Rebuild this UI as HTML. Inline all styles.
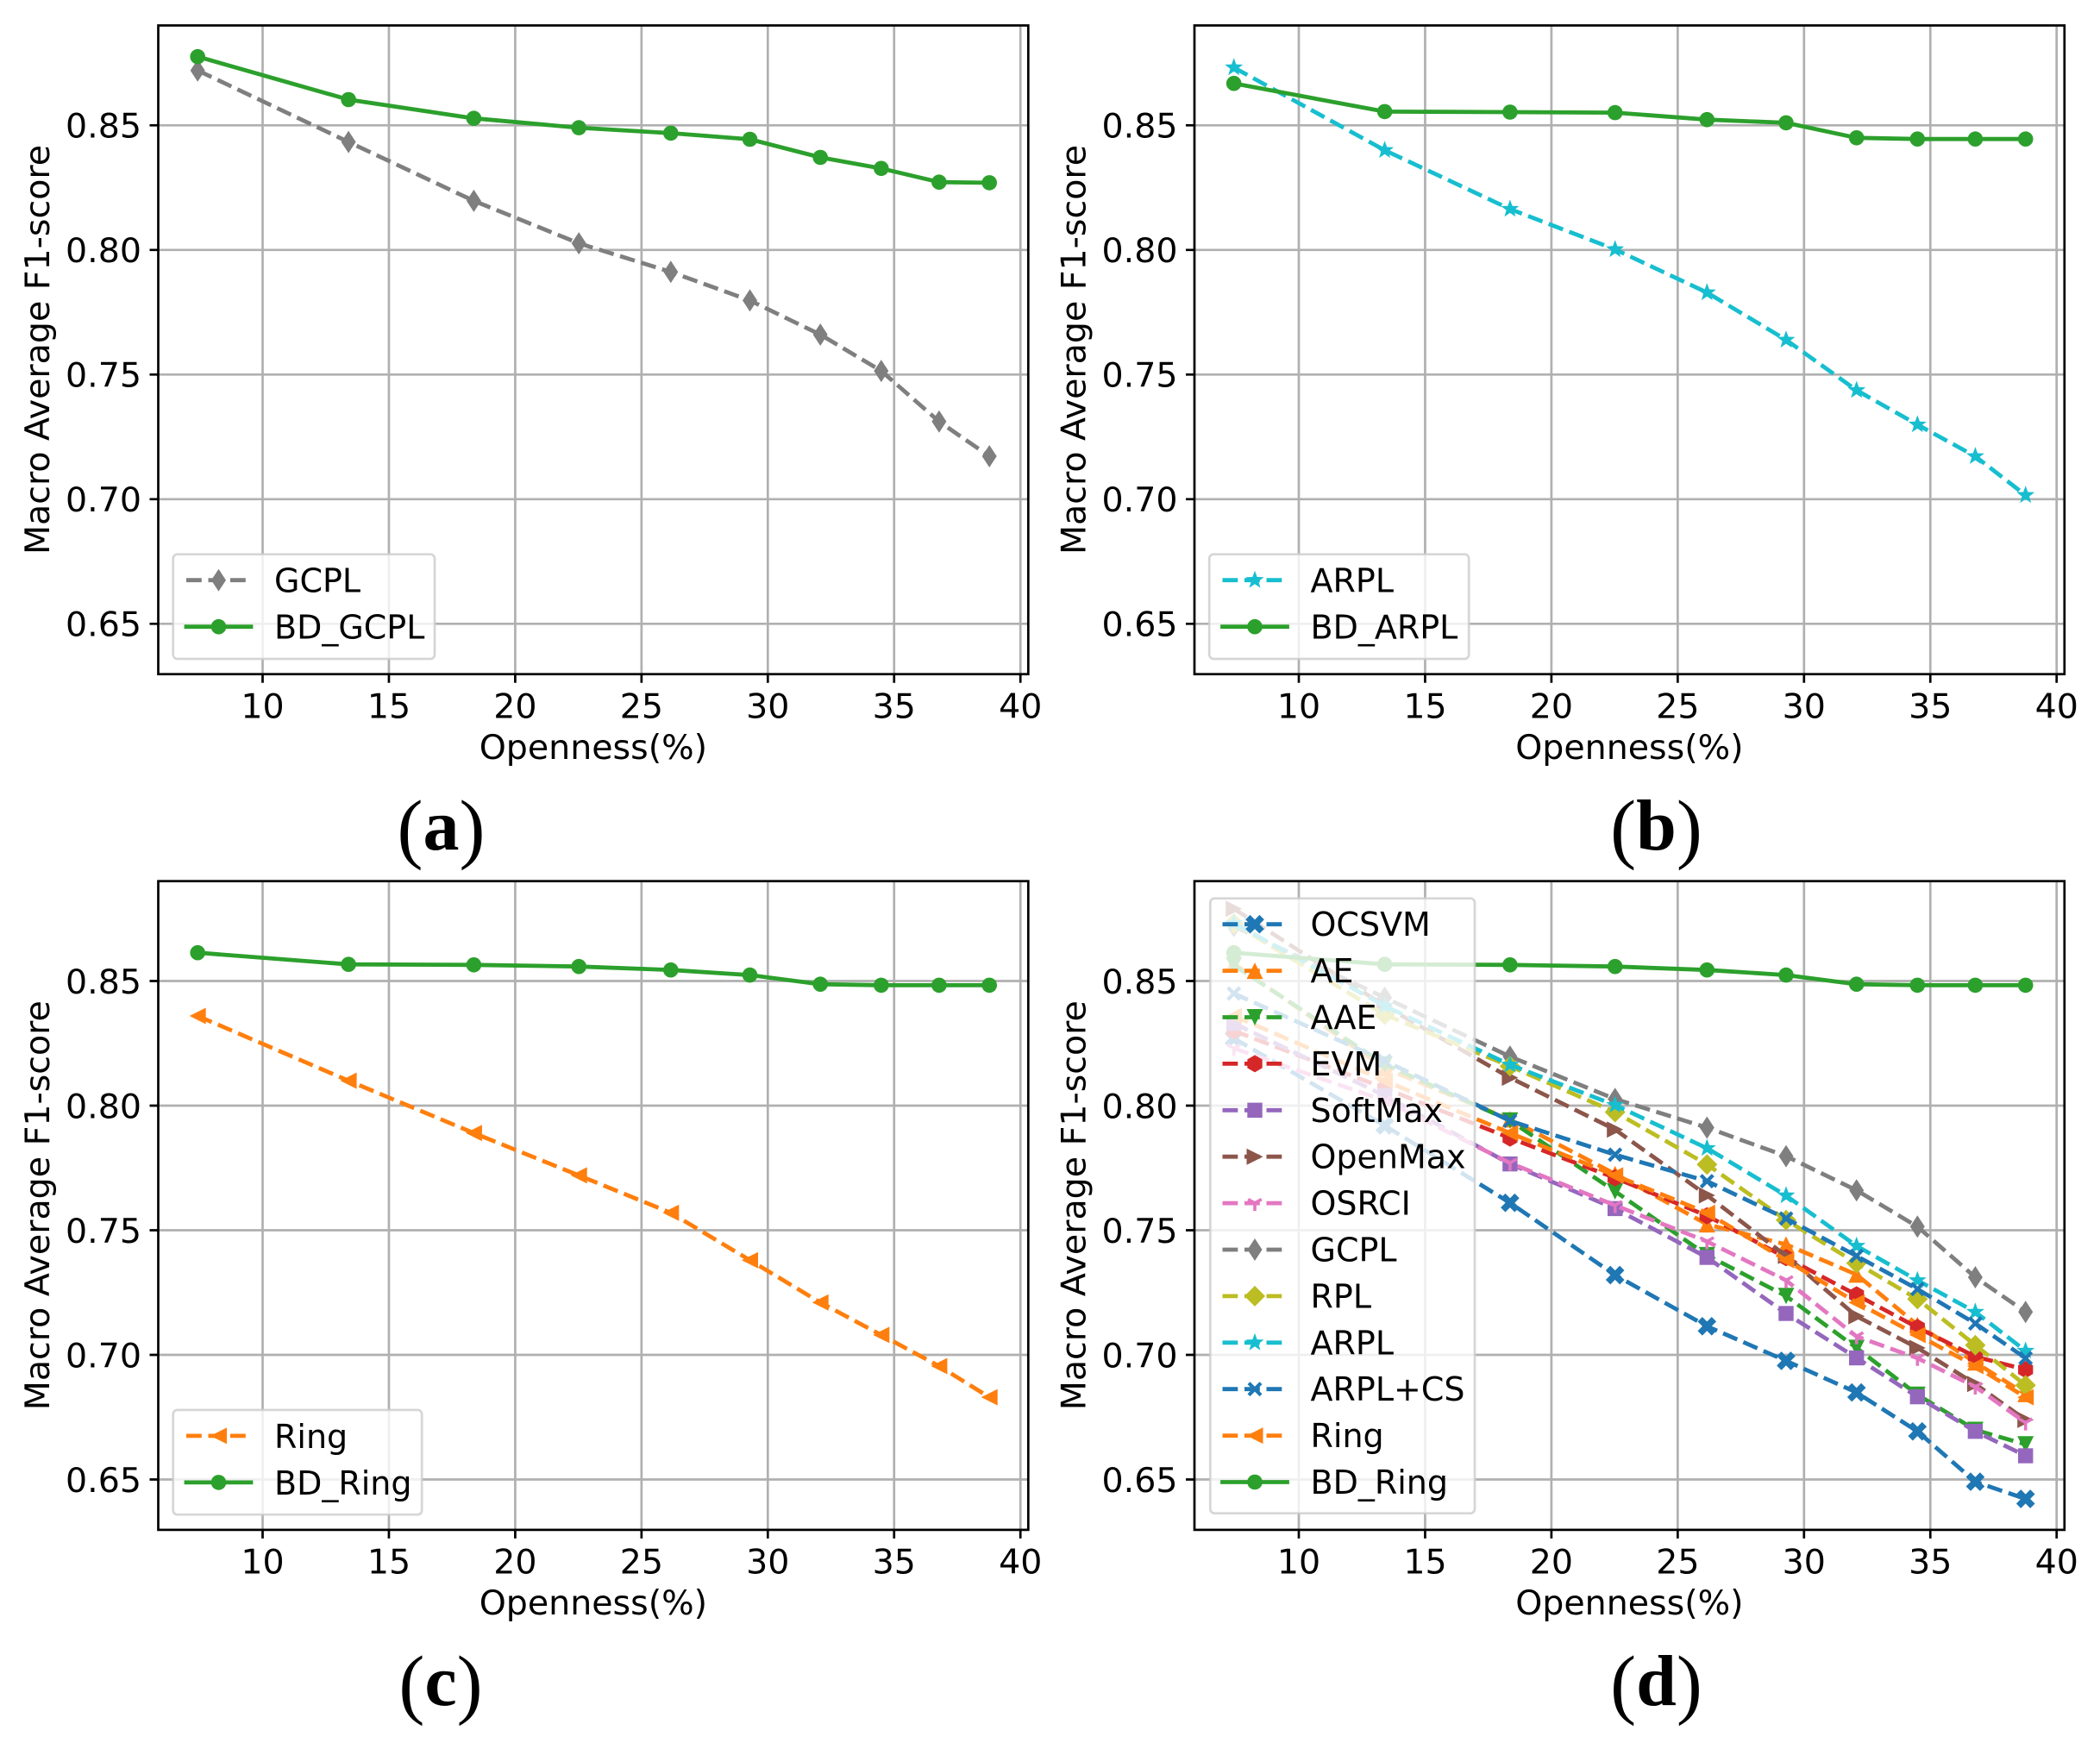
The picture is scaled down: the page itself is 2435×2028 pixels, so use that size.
<!DOCTYPE html>
<html><head><meta charset="utf-8">
<style>
html,body{margin:0;padding:0;background:#fff;}
svg{display:block;}
.tk{font-family:"DejaVu Sans","Liberation Sans",sans-serif;font-size:39.5px;fill:#000;}
.lg{font-family:"DejaVu Sans","Liberation Sans",sans-serif;font-size:38px;fill:#000;}
.fl{font-family:"Liberation Serif","DejaVu Serif",serif;font-size:90px;fill:#000;}
.d{fill:none;stroke-width:4.8;stroke-dasharray:17.8 7.7;stroke-linejoin:round;stroke-linecap:butt;}
.s{fill:none;stroke-width:4.8;stroke-linejoin:round;stroke-linecap:square;}
.lgbox{fill:#fff;fill-opacity:0.8;stroke:#cccccc;stroke-opacity:0.8;stroke-width:2.7;}
</style></head>
<body>
<svg width="2435" height="2028" viewBox="0 0 2435 2028" xmlns="http://www.w3.org/2000/svg">
<defs>
<marker id="mo" markerUnits="userSpaceOnUse" viewBox="-20 -20 40 40" refX="0" refY="0" markerWidth="40" markerHeight="40" overflow="visible"><circle r="8.8" fill="#2ca02c"/></marker>
<marker id="md" markerUnits="userSpaceOnUse" viewBox="-20 -20 40 40" refX="0" refY="0" markerWidth="40" markerHeight="40" overflow="visible"><polygon points="0,-13 8.5,0 0,13 -8.5,0" fill="#7f7f7f"/></marker>
<marker id="mst" markerUnits="userSpaceOnUse" viewBox="-20 -20 40 40" refX="0" refY="0" markerWidth="40" markerHeight="40" overflow="visible"><polygon points="0,-11 2.65,-3.64 10.46,-3.4 4.28,1.39 6.47,8.9 0,4.5 -6.47,8.9 -4.28,1.39 -10.46,-3.4 -2.65,-3.64" fill="#17becf"/></marker>
<marker id="mlt" markerUnits="userSpaceOnUse" viewBox="-20 -20 40 40" refX="0" refY="0" markerWidth="40" markerHeight="40" overflow="visible"><polygon points="-9.5,0 9.5,-9.5 9.5,9.5" fill="#ff7f0e"/></marker>
<marker id="mX" markerUnits="userSpaceOnUse" viewBox="-20 -20 40 40" refX="0" refY="0" markerWidth="40" markerHeight="40" overflow="visible"><polygon transform="rotate(45)" points="-3.8,-11.5 3.8,-11.5 3.8,-3.8 11.5,-3.8 11.5,3.8 3.8,3.8 3.8,11.5 -3.8,11.5 -3.8,3.8 -11.5,3.8 -11.5,-3.8 -3.8,-3.8" fill="#1f77b4"/></marker>
<marker id="mup" markerUnits="userSpaceOnUse" viewBox="-20 -20 40 40" refX="0" refY="0" markerWidth="40" markerHeight="40" overflow="visible"><polygon points="0,-9.5 9.5,9.5 -9.5,9.5" fill="#ff7f0e"/></marker>
<marker id="mdn" markerUnits="userSpaceOnUse" viewBox="-20 -20 40 40" refX="0" refY="0" markerWidth="40" markerHeight="40" overflow="visible"><polygon points="0,9.5 9.5,-9.5 -9.5,-9.5" fill="#2ca02c"/></marker>
<marker id="mh" markerUnits="userSpaceOnUse" viewBox="-20 -20 40 40" refX="0" refY="0" markerWidth="40" markerHeight="40" overflow="visible"><polygon points="0,-10 8.66,-5 8.66,5 0,10 -8.66,5 -8.66,-5" fill="#d62728"/></marker>
<marker id="msq" markerUnits="userSpaceOnUse" viewBox="-20 -20 40 40" refX="0" refY="0" markerWidth="40" markerHeight="40" overflow="visible"><rect x="-8.7" y="-8.7" width="17.4" height="17.4" fill="#9467bd"/></marker>
<marker id="mgt" markerUnits="userSpaceOnUse" viewBox="-20 -20 40 40" refX="0" refY="0" markerWidth="40" markerHeight="40" overflow="visible"><polygon points="9.5,0 -9.5,-9.5 -9.5,9.5" fill="#8c564b"/></marker>
<marker id="m1" markerUnits="userSpaceOnUse" viewBox="-20 -20 40 40" refX="0" refY="0" markerWidth="40" markerHeight="40" overflow="visible"><path d="M0,0 V9 M0,0 L-7.8,-4.5 M0,0 L7.8,-4.5" stroke="#e377c2" stroke-width="3.6" fill="none"/></marker>
<marker id="mD" markerUnits="userSpaceOnUse" viewBox="-20 -20 40 40" refX="0" refY="0" markerWidth="40" markerHeight="40" overflow="visible"><polygon points="0,-12 12,0 0,12 -12,0" fill="#bcbd22"/></marker>
<marker id="mx" markerUnits="userSpaceOnUse" viewBox="-20 -20 40 40" refX="0" refY="0" markerWidth="40" markerHeight="40" overflow="visible"><path d="M-7,-7 L7,7 M-7,7 L7,-7" stroke="#1f77b4" stroke-width="4.2" fill="none"/></marker>

<g id="grid">
<path d="M304.5 29.5V781.7M450.95 29.5V781.7M597.4 29.5V781.7M743.85 29.5V781.7M890.3 29.5V781.7M1036.75 29.5V781.7M1183.2 29.5V781.7M183.5 723.3H1192.3M183.5 578.8H1192.3M183.5 434.3H1192.3M183.5 289.8H1192.3M183.5 145.3H1192.3" stroke="#b0b0b0" stroke-width="2.7" fill="none"/>
</g>
<g id="frame">
<rect x="183.5" y="29.5" width="1008.8" height="752.2" fill="none" stroke="#000" stroke-width="2.7"/>
<path d="M304.5 781.7V791.7M450.95 781.7V791.7M597.4 781.7V791.7M743.85 781.7V791.7M890.3 781.7V791.7M1036.75 781.7V791.7M1183.2 781.7V791.7M173.5 723.3H183.5M173.5 578.8H183.5M173.5 434.3H183.5M173.5 289.8H183.5M173.5 145.3H183.5" stroke="#000" stroke-width="2.7" fill="none"/>
</g>
</defs>
<rect width="2435" height="2028" fill="#fff"/>

<!-- Panel (a) -->
<g>
<use href="#grid"/>
<polyline class="d" stroke="#7f7f7f" style="marker:url(#md)" points="229.2,81.7 404.1,164.6 549.4,232.9 671.2,282.1 777.8,315.3 869.5,348.4 951.2,388 1021.8,430.1 1088.9,488.8 1147.2,529"/>
<polyline class="s" stroke="#2ca02c" style="marker:url(#mo)" points="229.2,65.7 404.1,115.5 549.4,137.2 671.2,148.1 777.8,154.4 869.5,161.5 951.2,182.5 1021.8,195.3 1088.9,211.2 1147.2,211.9"/>
<rect class="lgbox" x="200.7" y="642.7" width="303.3" height="121.3" rx="5"/>
<polyline class="d" stroke="#7f7f7f" style="marker-mid:url(#md)" points="216,672.7 253.5,672.7 291,672.7"/>
<polyline class="s" stroke="#2ca02c" style="marker-mid:url(#mo)" points="216,726.7 253.5,726.7 291,726.7"/>
<text class="lg" x="318" y="686.7">GCPL</text>
<text class="lg" x="318" y="740.7">BD_GCPL</text>
<use href="#frame"/>
<g class="tk" text-anchor="middle">
<text x="304.5" y="832.5">10</text><text x="450.95" y="832.5">15</text><text x="597.4" y="832.5">20</text><text x="743.85" y="832.5">25</text><text x="890.3" y="832.5">30</text><text x="1036.75" y="832.5">35</text><text x="1183.2" y="832.5">40</text>
<text x="687.9" y="880">Openness(%)</text>
<text transform="translate(57,405.5) rotate(-90)">Macro Average F1-score</text>
</g>
<g class="tk" text-anchor="end">
<text x="164" y="737.6">0.65</text><text x="164" y="593.1">0.70</text><text x="164" y="448.6">0.75</text><text x="164" y="304.1">0.80</text><text x="164" y="159.6">0.85</text>
</g>
<text class="fl" x="511.5" y="990" text-anchor="middle">(<tspan font-weight="bold" font-size="84" dy="-5">a</tspan><tspan dy="5">)</tspan></text>
</g>

<!-- Panel (b) -->
<g transform="translate(1201.5,0)">
<use href="#grid"/>
<polyline class="d" stroke="#17becf" style="marker:url(#mst)" points="229.2,78.3 404.1,174.2 549.4,242.4 671.2,289.2 777.8,339.2 869.5,394.1 951.2,452.5 1021.8,492.4 1088.9,529.1 1147.2,574.2"/>
<polyline class="s" stroke="#2ca02c" style="marker:url(#mo)" points="229.2,96.7 404.1,129.4 549.4,130 671.2,130.6 777.8,138.7 869.5,142.4 951.2,159.8 1021.8,161.2 1088.9,161.2 1147.2,161.2"/>
<rect class="lgbox" x="200.7" y="642.7" width="301" height="121.3" rx="5"/>
<polyline class="d" stroke="#17becf" style="marker-mid:url(#mst)" points="216,672.7 253.5,672.7 291,672.7"/>
<polyline class="s" stroke="#2ca02c" style="marker-mid:url(#mo)" points="216,726.7 253.5,726.7 291,726.7"/>
<text class="lg" x="318" y="686.7">ARPL</text>
<text class="lg" x="318" y="740.7">BD_ARPL</text>
<use href="#frame"/>
<g class="tk" text-anchor="middle">
<text x="304.5" y="832.5">10</text><text x="450.95" y="832.5">15</text><text x="597.4" y="832.5">20</text><text x="743.85" y="832.5">25</text><text x="890.3" y="832.5">30</text><text x="1036.75" y="832.5">35</text><text x="1183.2" y="832.5">40</text>
<text x="687.9" y="880">Openness(%)</text>
<text transform="translate(57,405.5) rotate(-90)">Macro Average F1-score</text>
</g>
<g class="tk" text-anchor="end">
<text x="164" y="737.6">0.65</text><text x="164" y="593.1">0.70</text><text x="164" y="448.6">0.75</text><text x="164" y="304.1">0.80</text><text x="164" y="159.6">0.85</text>
</g>
<text class="fl" x="719" y="990" text-anchor="middle">(<tspan font-weight="bold" font-size="84" dy="-5">b</tspan><tspan dy="5">)</tspan></text>
</g>

<!-- Panel (c) -->
<g transform="translate(0,992.2)">
<use href="#grid"/>
<polyline class="d" stroke="#ff7f0e" style="marker:url(#mlt)" points="229.2,185.8 404.1,260.9 549.4,321.6 671.2,370.7 777.8,414.1 869.5,469 951.2,518.1 1021.8,555.7 1088.9,591.8 1147.2,627.9"/>
<polyline class="s" stroke="#2ca02c" style="marker:url(#mo)" points="229.2,112.5 404.1,126 549.4,126.6 671.2,128.5 777.8,132.5 869.5,138.4 951.2,149 1021.8,150.2 1088.9,150.2 1147.2,150.2"/>
<rect class="lgbox" x="200.7" y="642.7" width="288.5" height="121.3" rx="5"/>
<polyline class="d" stroke="#ff7f0e" style="marker-mid:url(#mlt)" points="216,672.7 253.5,672.7 291,672.7"/>
<polyline class="s" stroke="#2ca02c" style="marker-mid:url(#mo)" points="216,726.7 253.5,726.7 291,726.7"/>
<text class="lg" x="318" y="686.7">Ring</text>
<text class="lg" x="318" y="740.7">BD_Ring</text>
<use href="#frame"/>
<g class="tk" text-anchor="middle">
<text x="304.5" y="832.5">10</text><text x="450.95" y="832.5">15</text><text x="597.4" y="832.5">20</text><text x="743.85" y="832.5">25</text><text x="890.3" y="832.5">30</text><text x="1036.75" y="832.5">35</text><text x="1183.2" y="832.5">40</text>
<text x="687.9" y="880">Openness(%)</text>
<text transform="translate(57,405.5) rotate(-90)">Macro Average F1-score</text>
</g>
<g class="tk" text-anchor="end">
<text x="164" y="737.6">0.65</text><text x="164" y="593.1">0.70</text><text x="164" y="448.6">0.75</text><text x="164" y="304.1">0.80</text><text x="164" y="159.6">0.85</text>
</g>
<text class="fl" x="511" y="990" text-anchor="middle">(<tspan font-weight="bold" font-size="84" dy="-5">c</tspan><tspan dy="5">)</tspan></text>
</g>

<!-- Panel (d) -->
<g transform="translate(1201.5,992.2)">
<use href="#grid"/>
<polyline class="d" stroke="#1f77b4" style="marker:url(#mX)" points="229.2,211.8 404.1,312.9 549.4,402.5 671.2,486.3 777.8,545.6 869.5,585.7 951.2,622.4 1021.8,667.5 1088.9,725.9 1147.2,745.8"/>
<polyline class="d" stroke="#ff7f0e" style="marker:url(#mup)" points="229.2,125.1 404.1,246.5 549.4,305.7 671.2,369 777.8,427.4 869.5,450.8 951.2,485.7 1021.8,544.1 1088.9,587.5 1147.2,624.2"/>
<polyline class="d" stroke="#2ca02c" style="marker:url(#mdn)" points="229.2,127 404.1,242 549.4,307.1 671.2,389.2 777.8,463.2 869.5,510.6 951.2,570.7 1021.8,625 1088.9,665.8 1147.2,682.6"/>
<polyline class="d" stroke="#d62728" style="marker:url(#mh)" points="229.2,203.1 404.1,269.6 549.4,327.4 671.2,373.6 777.8,417.5 869.5,466.1 951.2,509.2 1021.8,547 1088.9,580.8 1147.2,595.9"/>
<polyline class="d" stroke="#9467bd" style="marker:url(#msq)" points="229.2,194.4 404.1,278.2 549.4,357.4 671.2,409.2 777.8,465.8 869.5,530.8 951.2,582.3 1021.8,627.4 1088.9,667.5 1147.2,695.8"/>
<polyline class="d" stroke="#8c564b" style="marker:url(#mgt)" points="229.2,61.5 404.1,174.2 549.4,257.4 671.2,317.5 777.8,393.8 869.5,464.1 951.2,534 1021.8,570.7 1088.9,612.6 1147.2,654.2"/>
<polyline class="d" stroke="#e377c2" style="marker:url(#m1)" points="229.2,223.3 404.1,284 549.4,356.3 671.2,405.4 777.8,447.3 869.5,492.4 951.2,557.4 1021.8,582.6 1088.9,615.8 1147.2,657.4"/>
<polyline class="d" stroke="#7f7f7f" style="marker:url(#md)" points="229.2,81.7 404.1,164.6 549.4,232.9 671.2,282.1 777.8,315.3 869.5,348.4 951.2,388 1021.8,430.1 1088.9,488.8 1147.2,529"/>
<polyline class="d" stroke="#bcbd22" style="marker:url(#mD)" points="229.2,78.8 404.1,184.3 549.4,244.1 671.2,297.3 777.8,358 869.5,422.5 951.2,472.4 1021.8,514.1 1088.9,567.5 1147.2,614.1"/>
<polyline class="d" stroke="#17becf" style="marker:url(#mst)" points="229.2,78.3 404.1,174.2 549.4,242.4 671.2,289.2 777.8,339.2 869.5,394.1 951.2,452.5 1021.8,492.4 1088.9,529.1 1147.2,574.2"/>
<polyline class="d" stroke="#1f77b4" style="marker:url(#mx)" points="229.2,159.8 404.1,237.8 549.4,307.4 671.2,346.7 777.8,377.4 869.5,420.7 951.2,464.1 1021.8,502.5 1088.9,542.4 1147.2,582.6"/>
<polyline class="d" stroke="#ff7f0e" style="marker:url(#mlt)" points="229.2,185.8 404.1,260.9 549.4,321.6 671.2,370.7 777.8,414.1 869.5,469 951.2,518.1 1021.8,555.7 1088.9,591.8 1147.2,627.9"/>
<polyline class="s" stroke="#2ca02c" style="marker:url(#mo)" points="229.2,112.5 404.1,126 549.4,126.6 671.2,128.5 777.8,132.5 869.5,138.4 951.2,149 1021.8,150.2 1088.9,150.2 1147.2,150.2"/>

<rect class="lgbox" x="201.8" y="49.5" width="306.7" height="713" rx="5"/>
<polyline class="d" stroke="#1f77b4" style="marker-mid:url(#mX)" points="216,79.5 253.5,79.5 291,79.5"/>
<polyline class="d" stroke="#ff7f0e" style="marker-mid:url(#mup)" points="216,133.4 253.5,133.4 291,133.4"/>
<polyline class="d" stroke="#2ca02c" style="marker-mid:url(#mdn)" points="216,187.3 253.5,187.3 291,187.3"/>
<polyline class="d" stroke="#d62728" style="marker-mid:url(#mh)" points="216,241.2 253.5,241.2 291,241.2"/>
<polyline class="d" stroke="#9467bd" style="marker-mid:url(#msq)" points="216,295.1 253.5,295.1 291,295.1"/>
<polyline class="d" stroke="#8c564b" style="marker-mid:url(#mgt)" points="216,349 253.5,349 291,349"/>
<polyline class="d" stroke="#e377c2" style="marker-mid:url(#m1)" points="216,402.9 253.5,402.9 291,402.9"/>
<polyline class="d" stroke="#7f7f7f" style="marker-mid:url(#md)" points="216,456.8 253.5,456.8 291,456.8"/>
<polyline class="d" stroke="#bcbd22" style="marker-mid:url(#mD)" points="216,510.7 253.5,510.7 291,510.7"/>
<polyline class="d" stroke="#17becf" style="marker-mid:url(#mst)" points="216,564.6 253.5,564.6 291,564.6"/>
<polyline class="d" stroke="#1f77b4" style="marker-mid:url(#mx)" points="216,618.5 253.5,618.5 291,618.5"/>
<polyline class="d" stroke="#ff7f0e" style="marker-mid:url(#mlt)" points="216,672.4 253.5,672.4 291,672.4"/>
<polyline class="s" stroke="#2ca02c" style="marker-mid:url(#mo)" points="216,726.3 253.5,726.3 291,726.3"/>
<g class="lg">
<text x="318" y="93">OCSVM</text>
<text x="318" y="146.9">AE</text>
<text x="318" y="200.8">AAE</text>
<text x="318" y="254.7">EVM</text>
<text x="318" y="308.6">SoftMax</text>
<text x="318" y="362.5">OpenMax</text>
<text x="318" y="416.4">OSRCI</text>
<text x="318" y="470.3">GCPL</text>
<text x="318" y="524.2">RPL</text>
<text x="318" y="578.1">ARPL</text>
<text x="318" y="632">ARPL+CS</text>
<text x="318" y="685.9">Ring</text>
<text x="318" y="739.8">BD_Ring</text>
</g>
<use href="#frame"/>
<g class="tk" text-anchor="middle">
<text x="304.5" y="832.5">10</text><text x="450.95" y="832.5">15</text><text x="597.4" y="832.5">20</text><text x="743.85" y="832.5">25</text><text x="890.3" y="832.5">30</text><text x="1036.75" y="832.5">35</text><text x="1183.2" y="832.5">40</text>
<text x="687.9" y="880">Openness(%)</text>
<text transform="translate(57,405.5) rotate(-90)">Macro Average F1-score</text>
</g>
<g class="tk" text-anchor="end">
<text x="164" y="737.6">0.65</text><text x="164" y="593.1">0.70</text><text x="164" y="448.6">0.75</text><text x="164" y="304.1">0.80</text><text x="164" y="159.6">0.85</text>
</g>
<text class="fl" x="719" y="990" text-anchor="middle">(<tspan font-weight="bold" font-size="84" dy="-5">d</tspan><tspan dy="5">)</tspan></text>
</g>
</svg>
</body></html>
